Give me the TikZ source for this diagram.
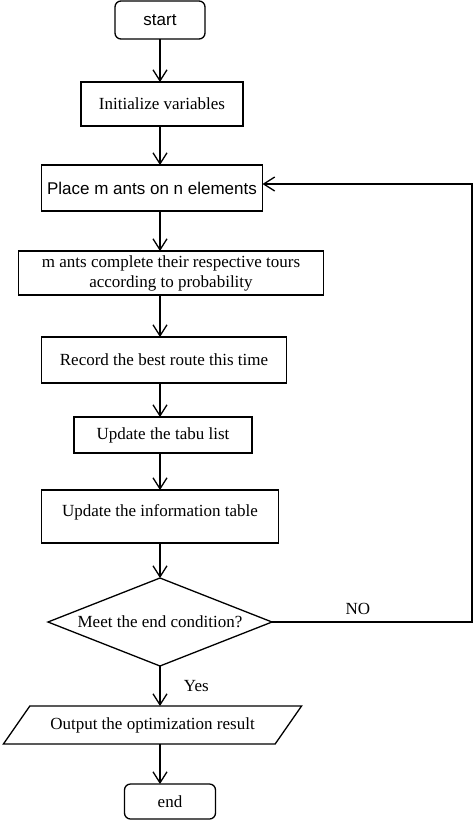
\documentclass[tikz,border=0pt]{standalone}
\usepackage{fontspec}
\setmainfont{Liberation Serif}
\newfontfamily\arialfont{Liberation Sans}
\usetikzlibrary{arrows.meta, positioning, shapes.geometric}

\begin{document}
\begin{tikzpicture}[node distance=40pt, every node/.style={font=\fontsize{17}{20}\selectfont}]
    \tikzstyle{proc}=[rectangle, draw, line width=1.3pt, align=center, inner sep=2pt, outer sep=0pt]
    \tikzstyle{term}=[proc, rounded corners=6pt]
    \tikzstyle{cond}=[diamond, draw, line width=1.3pt, aspect=2.5, inner sep=0pt, outer sep=0pt,
      minimum width=224pt, minimum height=88pt]
    \tikzstyle{io}=[trapezium, draw, line width=1.3pt, trapezium left angle=35,
      trapezium right angle=145, trapezium stretches=true, inner sep=0pt, outer sep=0pt,
      minimum width=299pt, minimum height=38pt]
    \tikzstyle{arr}=[-{Straight Barb[length=11pt, width=14pt]}, line width=1.3pt]
    \useasboundingbox (0,0) rectangle (474pt,-820pt);
    \node[term, minimum width=90pt, minimum height=38pt,
      font=\fontsize{17}{20}\selectfont\arialfont] (start) at (160pt,-20pt) {start};
    \node[proc, below=43pt of start, xshift=2pt, minimum width=162pt, minimum height=44pt] (init) {Initialize variables};
    \node[proc, below=39pt of init, xshift=-10pt, minimum width=221pt, minimum height=46pt,
      font=\fontsize{17}{20}\selectfont\arialfont] (place) {Place m ants on n elements};
    \node[proc, below=40pt of place, xshift=19pt, minimum width=305pt, minimum height=44pt] (tours) {m ants complete their respective tours\\according to probability};
    \node[proc, below=42pt of tours, xshift=-7pt, minimum width=245pt, minimum height=46pt] (record) {Record the best route this time};
    \node[proc, below=34pt of record, xshift=-1pt, minimum width=178pt, minimum height=36pt] (tabu) {Update the tabu list};
    \node[proc, below=37pt of tabu, xshift=-3pt, minimum width=237pt, minimum height=53pt] (info) {\raisebox{12pt}{Update the information table}};
    \node[cond, below=35pt of info] (dia) {Meet the end condition?};
    \node[io, below=40pt of dia, xshift=-7.5pt] (out) {Output the optimization result};
    \node[term, below=40pt of out, xshift=17.5pt, minimum width=91pt, minimum height=35pt] (stop) {end};
    % main column
    \coordinate (col) at (start.south);
    \draw[arr] (col) -- (col |- init.north);
    \draw[arr] (col |- init.south) -- (col |- place.north);
    \draw[arr] (col |- place.south) -- (col |- tours.north);
    \draw[arr] (col |- tours.south) -- (col |- record.north);
    \draw[arr] (col |- record.south) -- (col |- tabu.north);
    \draw[arr] (col |- tabu.south) -- (col |- info.north);
    \draw[arr] (col |- info.south) -- (col |- dia.north);
    \draw[arr] (col |- dia.south) -- node[right, xshift=20pt] {Yes} (col |- out.north);
    \draw[arr] (col |- out.south) -- (col |- stop.north);
    % loop back
    \draw[arr] (dia.east) -- node[above, pos=0.43, yshift=3pt] {NO} ++(200pt,0) |- ([yshift=4pt]place.east);
  \end{tikzpicture}
\end{document}
